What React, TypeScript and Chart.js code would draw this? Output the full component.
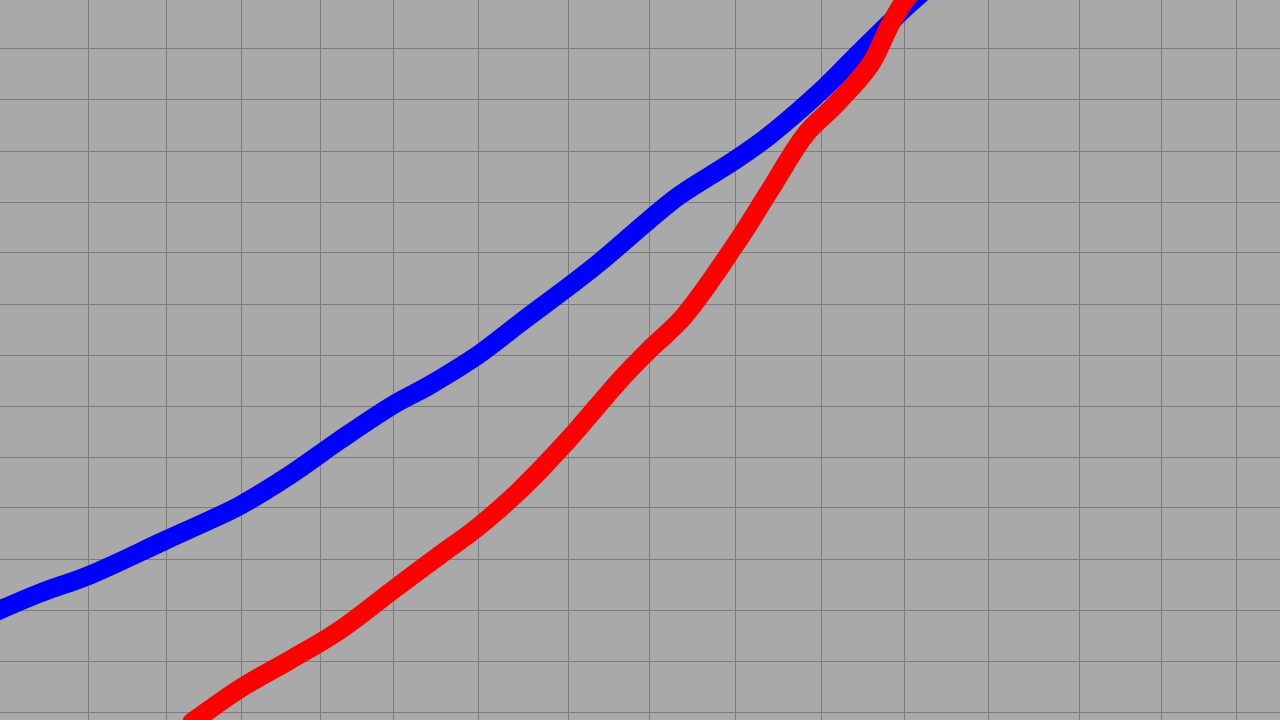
import { useEffect, useRef } from "react"
import { Chart, registerables } from "chart.js"

Chart.register(...registerables)

// grid positions (x from left, y measured upward from bottom)
const gridX = [88, 166, 241, 320, 393, 478, 568, 649, 735, 821, 904, 988, 1079, 1161, 1236]
const gridY = [8, 59, 110, 161, 212, 263, 314, 365, 416, 467, 518, 569, 620, 671]

const blueX = [-5, 40, 90, 166, 210, 241, 290, 340, 393, 430, 478, 520, 568, 600, 649, 680, 735, 770, 822, 860, 905, 925]
const blueY = [108, 127, 145, 180, 200, 215, 245, 280, 315, 335, 365, 397, 433, 458, 500, 525, 560, 585, 630, 668, 712, 730]

const redX = [192, 241, 290, 340, 393, 440, 478, 520, 568, 620, 649, 685, 735, 770, 805, 835, 870, 890, 905, 918]
const redY = [-2, 32, 60, 90, 130, 165, 193, 230, 280, 340, 370, 405, 475, 530, 585, 615, 655, 695, 720, 735]

const toPoints = (xs: number[], ys: number[]) => xs.map((x, i) => ({ x, y: ys[i] }))

export default function App() {
  const canvasRef = useRef<HTMLCanvasElement>(null)
  const chartRef = useRef<Chart | null>(null)

  useEffect(() => {
    document.body.style.margin = "0"
    if (!canvasRef.current) return
    if (chartRef.current) chartRef.current.destroy()

    const zeroFit = (s: any) => {
      if (s.isHorizontal()) s.height = 0
      else s.width = 0
    }

    chartRef.current = new Chart(canvasRef.current, {
      type: "line",
      data: {
        datasets: [
          {
            label: "red",
            data: toPoints(redX, redY),
            borderColor: "#ff0000",
            borderWidth: 19,
            borderCapStyle: "round",
            borderJoinStyle: "round",
            tension: 0.35,
            pointRadius: 0,
            fill: false,
          },
          {
            label: "blue",
            data: toPoints(blueX, blueY),
            borderColor: "#0000ff",
            borderWidth: 19,
            borderCapStyle: "round",
            borderJoinStyle: "round",
            tension: 0.35,
            pointRadius: 0,
            fill: false,
          },
        ],
      },
      options: {
        animation: false,
        responsive: false,
        maintainAspectRatio: false,
        layout: { padding: 0 },
        plugins: {
          legend: { display: false },
          tooltip: { enabled: false },
        },
        scales: {
          x: {
            type: "linear",
            min: 0,
            max: 1280,
            afterBuildTicks: (s) => {
              s.ticks = gridX.map((v) => ({ value: v }))
            },
            afterFit: zeroFit,
            ticks: { display: false },
            border: { display: false },
            grid: { color: "#7c7c7c", lineWidth: 1, drawTicks: false },
          },
          y: {
            type: "linear",
            min: 0,
            max: 720,
            afterBuildTicks: (s) => {
              s.ticks = gridY.map((v) => ({ value: v }))
            },
            afterFit: zeroFit,
            ticks: { display: false },
            border: { display: false },
            grid: { color: "#7c7c7c", lineWidth: 1, drawTicks: false },
          },
        },
      },
    })

    return () => {
      if (chartRef.current) {
        chartRef.current.destroy()
        chartRef.current = null
      }
    }
  }, [])

  return (
    <div style={{ position: "fixed", left: 0, top: 0, width: 1280, height: 720, background: "#a9a9a9" }}>
      <canvas ref={canvasRef} width={1280} height={720} style={{ width: 1280, height: 720, display: "block" }} />
    </div>
  )
}
